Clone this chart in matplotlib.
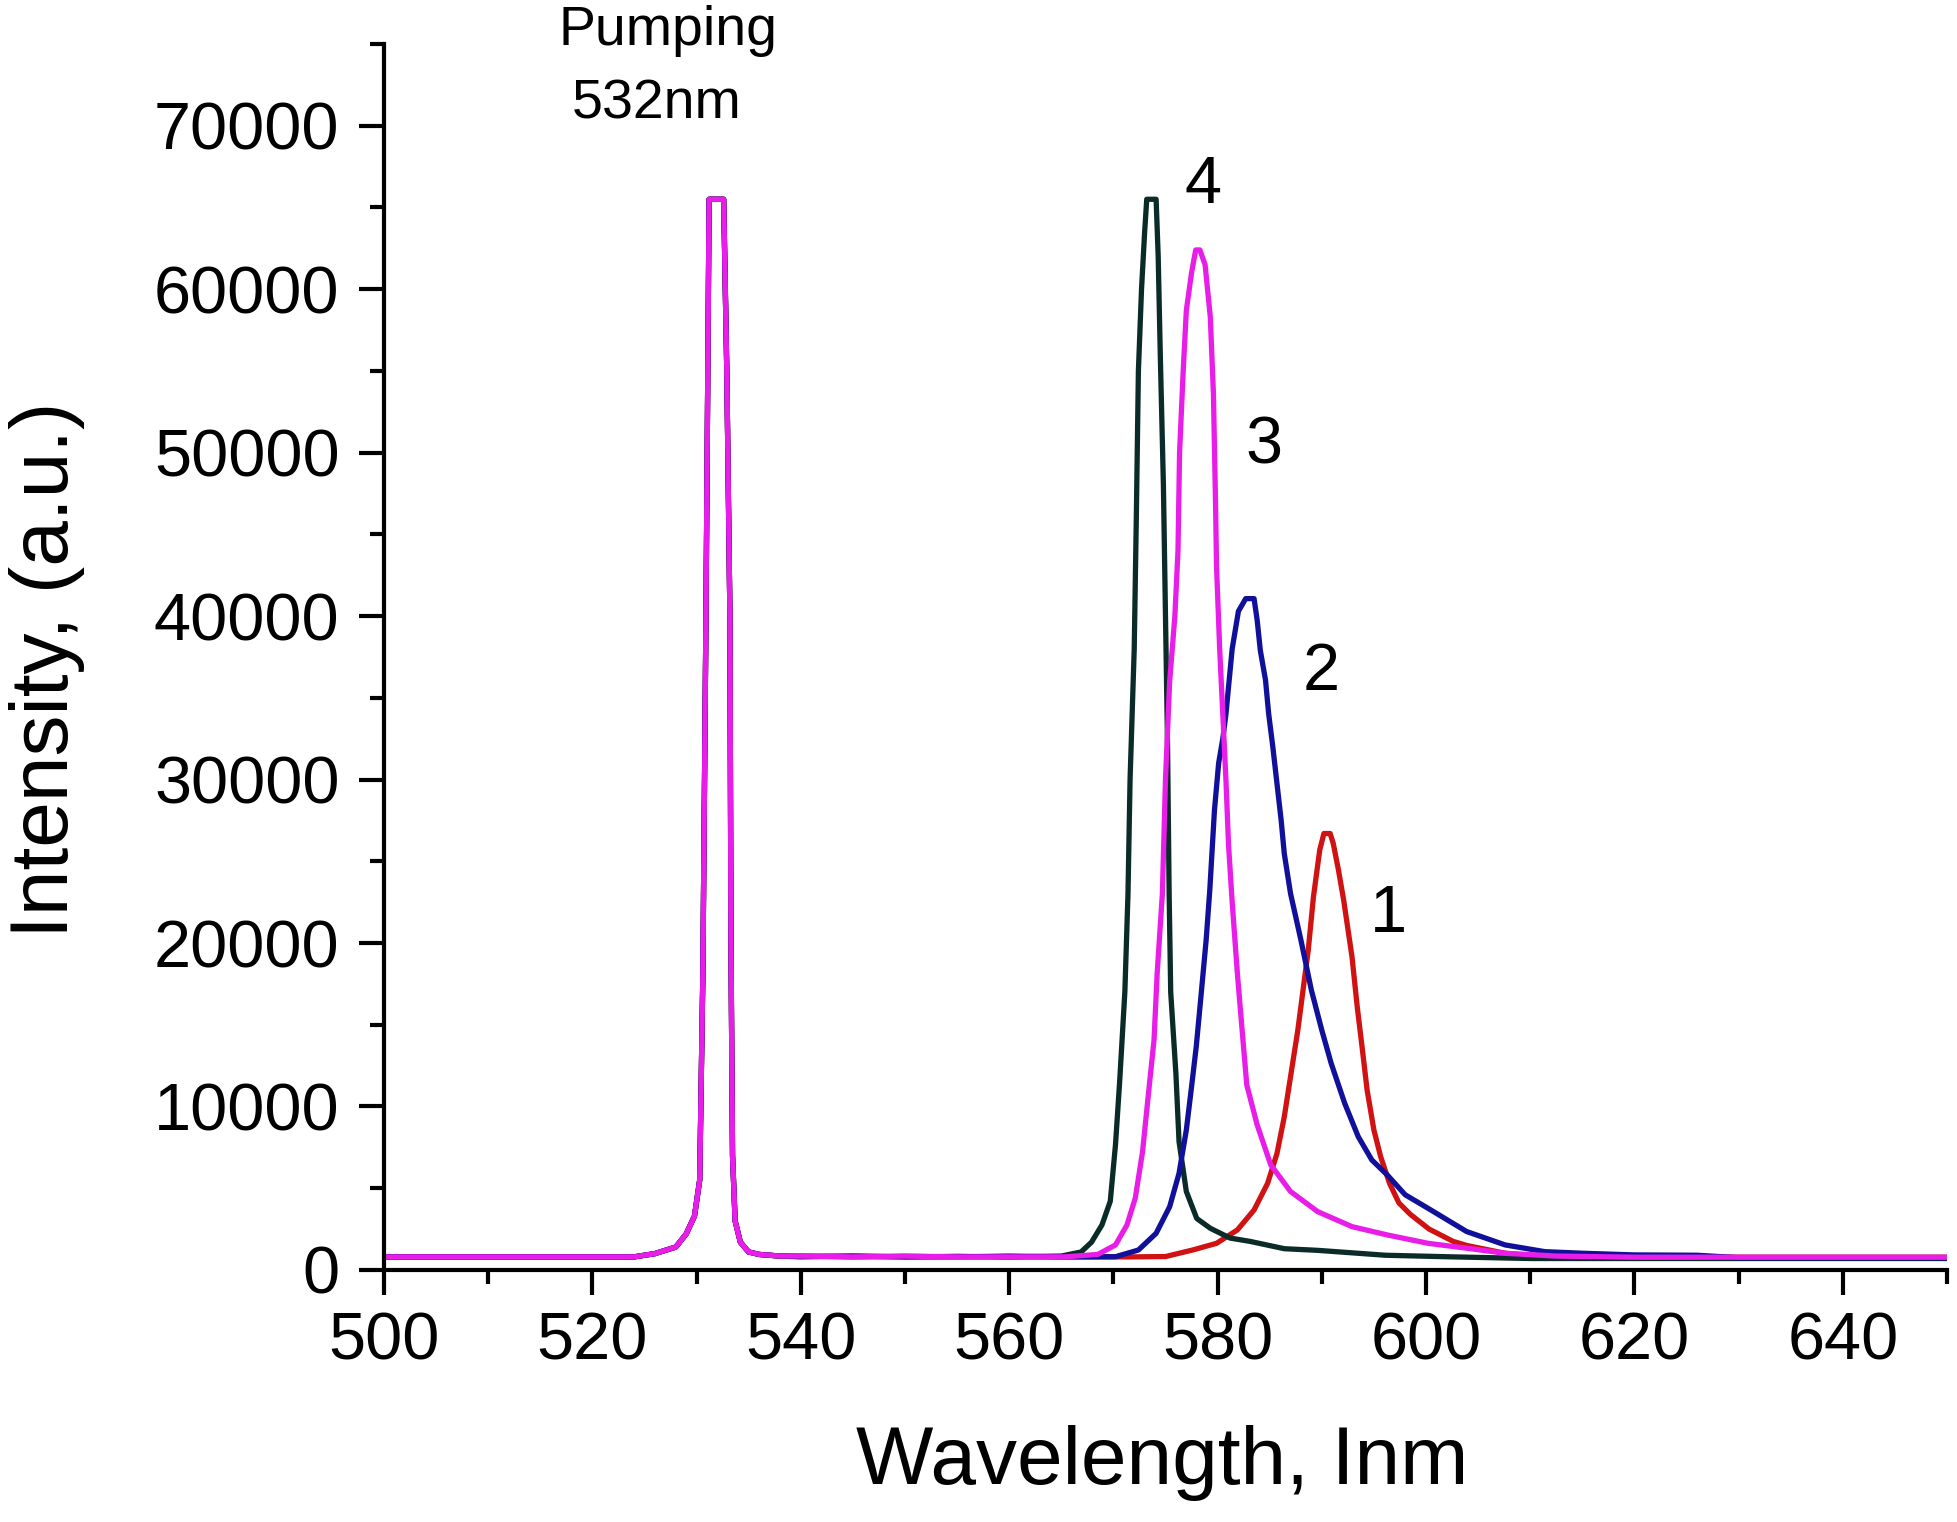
# Emission spectra of the four samples with the 532 nm pumping line
import matplotlib.pyplot as plt
from matplotlib.ticker import MultipleLocator

plt.rcParams['font.family'] = ['Liberation Sans', 'DejaVu Sans']

# Pump line (same in all four spectra)
pump_wl = [500, 524, 526, 528, 529, 529.8, 530.3, 530.6, 530.9, 531.2, 532.6,
           532.9, 533.2, 533.3, 533.45, 533.7, 534.2, 535.0, 536.0, 538.0]
pump_int = [800, 800, 1000, 1400, 2200, 3300, 5500, 18000, 40000, 65500, 65500,
            55000, 40000, 20000, 7000, 3000, 1700, 1100, 950, 850]

# Curve 1 (red)
wl_1 = [540, 545, 550, 555, 560, 565, 571.8, 575.0, 577.6, 579.9, 581.9, 583.5,
        584.8, 585.7, 586.4, 587.0, 587.7, 588.2, 588.7, 589.2, 589.5, 589.8,
        590.2, 590.8, 591.1, 591.6, 592.1, 592.9, 593.4, 593.9, 594.35, 595.0,
        595.65, 596.5, 597.4, 598.5, 600.3, 602.6, 603.9, 607.6, 611.4, 620,
        630, 640, 650]
int_1 = [800, 850, 800, 820, 800, 800, 800, 820, 1220, 1630, 2450, 3670,
         5300, 7130, 9370, 11820, 14670, 17120, 19560, 22830, 24260, 25680,
         26700, 26700, 26090, 24460, 22620, 19150, 16100, 13450, 11000, 8560,
         6930, 5300, 4100, 3400, 2500, 1750, 1500, 1020, 816, 780,
         780, 780, 780]

# Curve 2 (blue)
wl_2 = [540, 545, 550, 555, 560, 565, 570.2, 572.4, 574.1, 575.4, 576.3, 577.0,
        577.5, 577.95, 578.4, 578.9, 579.25, 579.7, 580.1, 580.5, 580.8, 581.1,
        581.4, 582.0, 582.7, 583.5, 583.8, 584.1, 584.6, 584.9, 585.3, 585.7,
        586.1, 586.4, 587.0, 588.0, 589.0, 590.0, 590.9, 592.2, 593.5, 594.8,
        596.3, 598.0, 600.2, 603.9, 607.6, 611.4, 615.1, 620, 626, 630, 640, 650]
int_2 = [850, 800, 830, 800, 850, 800, 810, 1220, 2240, 3870, 5910, 8560,
         11200, 13650, 16710, 20170, 23230, 28130, 31000, 32500, 34000, 36000,
         38000, 40300, 41070, 41070, 39740, 37900, 36080, 34030, 32000, 29750,
         27510, 25470, 23030, 20170, 17120, 14670, 12640, 10190, 8150, 6730,
         5800, 4600, 3770, 2350, 1530, 1120, 1020, 920, 900, 750, 750, 750]

# Curve 3 (magenta)
wl_3 = [540, 545, 550, 555, 560, 565.3, 568.5, 570.2, 571.3, 572.1, 572.8,
        573.4, 573.9, 574.2, 574.7, 575.0, 575.4, 575.9, 576.2, 576.35, 576.7,
        577.0, 577.5, 577.9, 578.3, 578.8, 579.3, 579.6, 579.8, 579.9, 580.2,
        580.5, 580.8, 581.05, 581.4, 581.9, 582.3, 582.8, 583.8, 585.1, 587.0,
        589.6, 592.9, 596.3, 600.2, 603.9, 607.6, 612.5, 620, 630, 640, 650]
int_3 = [850, 800, 850, 800, 800, 800, 950, 1530, 2750, 4390, 7240,
         11000, 14060, 18130, 23000, 30000, 36000, 40000, 44000, 50000, 55000,
         58700, 61000, 62400, 62400, 61500, 58300, 53600, 47000, 43000, 38000,
         34000, 30000, 26000, 22500, 18130, 15080, 11320, 8870, 6430, 4800,
         3570, 2650, 2140, 1630, 1330, 1020, 850, 780, 780, 780, 780]

# Curve 4 (dark)
wl_4 = [540, 545, 550, 555, 560, 565, 566.9, 567.9, 568.9, 569.7, 570.2, 570.6,
        571.1, 571.4, 571.6, 572.0, 572.2, 572.4, 572.7, 573.0, 573.2, 574.1,
        574.3, 574.5, 574.8, 575.0, 575.2, 575.35, 575.5, 576.0, 576.3, 577.0,
        578.0, 579.3, 581.2, 583.1, 586.4, 589.6, 596.1, 602.6, 610, 620, 630,
        640, 650]
int_4 = [820, 850, 800, 830, 800, 850, 1100, 1700, 2750, 4200, 7650, 11500,
         17000, 23000, 30000, 38000, 46000, 55000, 60000, 63500, 65500, 65500,
         62000, 56000, 48000, 40000, 32000, 23000, 17000, 12000, 7850, 4800,
         3150, 2550, 1950, 1750, 1300, 1200, 900, 800, 700, 700, 700,
         700, 700]

colors = {'1': '#d01212', '2': '#10109a', '3': '#e81ee8', '4': '#0b2b29'}

fig = plt.figure(figsize=(19.57, 15.22), dpi=100)
ax = fig.add_axes([0.1962, 0.1656, 0.7987, 0.8055])

lw = 3.8
ax.plot(pump_wl + wl_1, pump_int + int_1, color=colors['1'], lw=lw)
ax.plot(pump_wl + wl_4, pump_int + int_4, color=colors['4'], lw=lw)
ax.plot(pump_wl + wl_2, pump_int + int_2, color=colors['2'], lw=lw)
ax.plot(pump_wl + wl_3, pump_int + int_3, color=colors['3'], lw=lw)

ax.set_xlim(500, 650)
ax.set_ylim(0, 75000)

ax.spines['top'].set_visible(False)
ax.spines['right'].set_visible(False)
ax.spines['left'].set_linewidth(3)
ax.spines['bottom'].set_linewidth(3)

ax.xaxis.set_major_locator(MultipleLocator(20))
ax.xaxis.set_minor_locator(MultipleLocator(10))
ax.yaxis.set_major_locator(MultipleLocator(10000))
ax.yaxis.set_minor_locator(MultipleLocator(5000))
ax.tick_params(which='major', direction='out', length=18, width=3, labelsize=48)
ax.tick_params(which='minor', direction='out', length=10, width=3)
ax.tick_params(axis='x', which='major', pad=12)
ax.tick_params(axis='y', which='major', pad=14)

fig.text(0.594, 0.039, 'Wavelength, Inm', fontsize=59, ha='center', va='center')
fig.text(0.024, 0.56, 'Intensity, (a.u.)', fontsize=59, ha='center', va='center',
         rotation=90)

# annotations
ax.text(527.3, 75800, 'Pumping', fontsize=40, ha='center', va='center')
ax.text(526.2, 71300, '532nm', fontsize=40, ha='center', va='center')
ax.text(578.6, 66300, '4', fontsize=48, ha='center', va='center')
ax.text(584.4, 50400, '3', fontsize=48, ha='center', va='center')
ax.text(589.9, 36500, '2', fontsize=48, ha='center', va='center')
ax.text(596.4, 21700, '1', fontsize=48, ha='center', va='center')

plt.savefig('out.png', dpi=100)
